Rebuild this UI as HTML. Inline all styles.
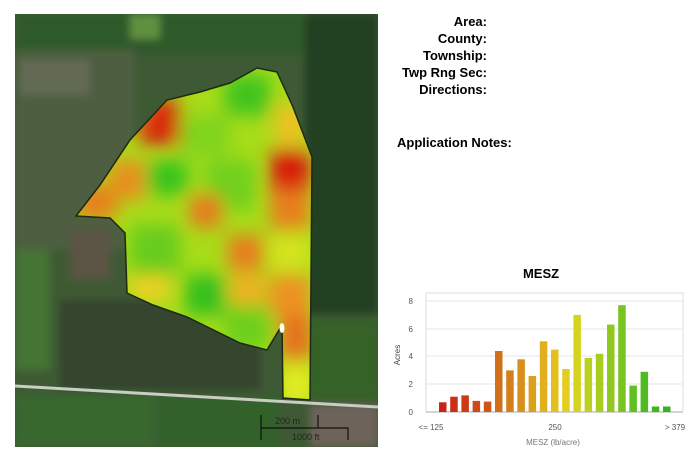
<!DOCTYPE html>
<html><head><meta charset="utf-8"><style>
body{margin:0;width:700px;height:467px;background:#fff;overflow:hidden;font-family:"Liberation Sans",Arial,sans-serif}
</style></head><body>
<svg width="700" height="467" viewBox="0 0 700 467" xmlns="http://www.w3.org/2000/svg" style="position:absolute;left:0;top:0">
<defs>
<filter id="b" x="-20%" y="-20%" width="140%" height="140%"><feGaussianBlur stdDeviation="9"/></filter>
<filter id="b2"><feGaussianBlur stdDeviation="4"/></filter>
<clipPath id="f"><path d="M76,216 L100,185 L130,140 L167,100 L200,92 L230,83 L257,68 L277,72 L293,107 L312,157 L310,400 L283,398 L282,325 L267,350 L240,343 L187,317 L153,305 L127,293 L125,233 L110,218 Z"/></clipPath>
<clipPath id="m"><rect x="15" y="14" width="363" height="433"/></clipPath>
</defs>
<g clip-path="url(#m)">
<rect x="15" y="14" width="363" height="433" fill="#3e5a34"/>
<g filter="url(#b2)">
<rect x="15" y="14" width="290" height="40" fill="#2f5a2a"/>
<rect x="130" y="14" width="30" height="25" fill="#5f9040"/>
<rect x="15" y="50" width="120" height="200" fill="#4d5e40"/>
<rect x="20" y="60" width="70" height="35" fill="#636a52"/>
<rect x="305" y="14" width="73" height="300" fill="#243f20"/>
<rect x="310" y="320" width="68" height="80" fill="#356228"/>
<rect x="15" y="250" width="35" height="120" fill="#457535"/>
<rect x="70" y="230" width="40" height="50" fill="#5c5444"/>
<rect x="60" y="300" width="200" height="90" fill="#35442d"/>
<rect x="15" y="395" width="140" height="52" fill="#37682e"/>
<rect x="158" y="398" width="120" height="49" fill="#33622b"/>
<rect x="310" y="405" width="68" height="42" fill="#6e645a"/>
</g>
<path d="M15,386 L378,407" stroke="#c9cdc4" stroke-width="3"/>
</g>
<g clip-path="url(#f)">
<rect x="70" y="60" width="250" height="350" fill="#a8dc1a"/>
<g filter="url(#b)">
<rect x="225" y="75" width="45" height="40" fill="#40c41a"/>
<rect x="180" y="115" width="50" height="40" fill="#7fd41a"/>
<rect x="140" y="100" width="40" height="45" fill="#d82010"/>
<rect x="125" y="95" width="25" height="30" fill="#e86018"/>
<rect x="275" y="105" width="30" height="40" fill="#f0c020"/>
<rect x="270" y="150" width="40" height="40" fill="#d81a0c"/>
<rect x="270" y="190" width="40" height="40" fill="#e8801a"/>
<rect x="148" y="160" width="40" height="35" fill="#38c41a"/>
<rect x="205" y="160" width="50" height="50" fill="#70d01a"/>
<rect x="110" y="160" width="35" height="40" fill="#e8901c"/>
<rect x="76" y="185" width="40" height="35" fill="#e8801a"/>
<rect x="190" y="195" width="32" height="32" fill="#e8781a"/>
<rect x="228" y="235" width="35" height="35" fill="#e87c1a"/>
<rect x="130" y="225" width="50" height="50" fill="#68cc1a"/>
<rect x="185" y="275" width="40" height="40" fill="#36c01a"/>
<rect x="130" y="275" width="40" height="25" fill="#f0d020"/>
<rect x="270" y="235" width="40" height="35" fill="#d4e41c"/>
<rect x="230" y="275" width="35" height="30" fill="#f0b020"/>
<rect x="270" y="275" width="40" height="40" fill="#f09020"/>
<rect x="280" y="315" width="32" height="45" fill="#e8701a"/>
<rect x="280" y="365" width="32" height="40" fill="#e4ec20"/>
<rect x="225" y="305" width="45" height="45" fill="#6cd01a"/>
</g>
</g>
<path d="M76,216 L100,185 L130,140 L167,100 L200,92 L230,83 L257,68 L277,72 L293,107 L312,157 L310,400 L283,398 L282,325 L267,350 L240,343 L187,317 L153,305 L127,293 L125,233 L110,218 Z" fill="none" stroke="#1e2a10" stroke-width="1.5"/>
<ellipse cx="282" cy="328" rx="2.5" ry="5" fill="#fff"/>
<g stroke="#111" stroke-width="1.2" fill="none">
<path d="M261,415 V440 M261,428 H348 V440 M318,415 V428"/>
</g>
<text x="275" y="424" font-size="9" fill="#222">200 m</text>
<text x="292" y="440" font-size="9" fill="#222">1000 ft</text>
<g font-size="13" font-weight="bold" text-anchor="end" fill="#000">
<text x="487" y="26">Area:</text>
<text x="487" y="43">County:</text>
<text x="487" y="60">Township:</text>
<text x="487" y="77">Twp Rng Sec:</text>
<text x="487" y="94">Directions:</text>
</g>
<text x="397" y="147" font-size="13" font-weight="bold">Application Notes:</text>
<text x="541" y="278" font-size="13" font-weight="bold" text-anchor="middle">MESZ</text>
<rect x="426" y="293" width="257" height="119" fill="none" stroke="#ddd"/>
<g stroke="#e6e6e6">
<line x1="426" y1="301" x2="683" y2="301"/><line x1="426" y1="329" x2="683" y2="329"/>
<line x1="426" y1="356" x2="683" y2="356"/><line x1="426" y1="384" x2="683" y2="384"/>
</g>
<line x1="426" y1="412" x2="683" y2="412" stroke="#aaa"/>
<g font-size="8" fill="#555" text-anchor="end">
<text x="413" y="304">8</text><text x="413" y="332">6</text><text x="413" y="359">4</text><text x="413" y="387">2</text><text x="413" y="415">0</text>
</g>
<text transform="translate(400,355) rotate(-90)" font-size="8" fill="#444" text-anchor="middle">Acres</text>
<g font-size="8" fill="#555" text-anchor="middle">
<text x="431" y="430">&lt;= 125</text><text x="555" y="430">250</text><text x="675" y="430">&gt; 379</text>
</g>
<text x="553" y="445" font-size="8" fill="#777" text-anchor="middle">MESZ (lb/acre)</text>
<g>
<rect x="439" y="402.3" width="7.5" height="9.7" fill="#c8241a"/>
<rect x="450.2" y="396.7" width="7.5" height="15.3" fill="#cc2e18"/>
<rect x="461.4" y="395.4" width="7.5" height="16.6" fill="#cc3a18"/>
<rect x="472.6" y="400.9" width="7.5" height="11.1" fill="#d04818"/>
<rect x="483.8" y="401.6" width="7.5" height="10.4" fill="#d05418"/>
<rect x="495" y="351" width="7.5" height="61" fill="#d0701a"/>
<rect x="506.2" y="370.4" width="7.5" height="41.6" fill="#d4801a"/>
<rect x="517.4" y="359.3" width="7.5" height="52.7" fill="#d8901c"/>
<rect x="528.6" y="376" width="7.5" height="36" fill="#dca01c"/>
<rect x="539.8" y="341.3" width="7.5" height="70.7" fill="#e0b01e"/>
<rect x="551" y="349.6" width="7.5" height="62.4" fill="#e4c01e"/>
<rect x="562.2" y="369" width="7.5" height="43" fill="#e4cc20"/>
<rect x="573.4" y="314.9" width="7.5" height="97.1" fill="#d4d420"/>
<rect x="584.6" y="357.9" width="7.5" height="54.1" fill="#bcd020"/>
<rect x="595.8" y="353.8" width="7.5" height="58.2" fill="#a8cc20"/>
<rect x="607" y="324.6" width="7.5" height="87.4" fill="#90c820"/>
<rect x="618.2" y="305.2" width="7.5" height="106.8" fill="#78c420"/>
<rect x="629.4" y="385.6" width="7.5" height="26.4" fill="#60c020"/>
<rect x="640.6" y="371.8" width="7.5" height="40.2" fill="#4cbc20"/>
<rect x="651.8" y="406.5" width="7.5" height="5.5" fill="#3cb820"/>
<rect x="663" y="406.5" width="7.5" height="5.5" fill="#34b420"/>
</g>
</svg>
</body></html>
